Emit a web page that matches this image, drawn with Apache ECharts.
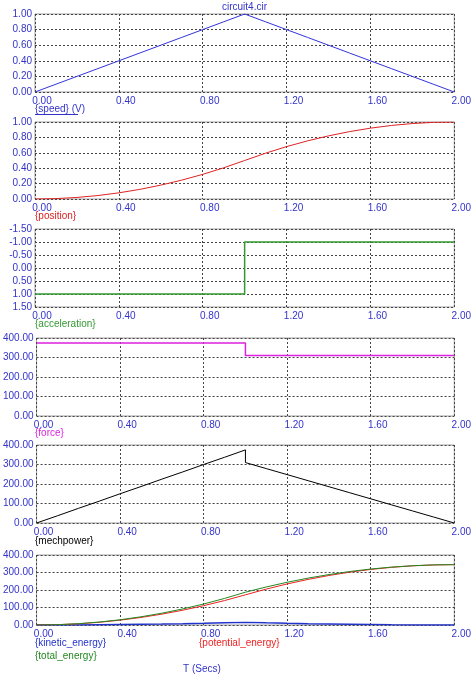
<!DOCTYPE html>
<html><head><meta charset="utf-8">
<script src="https://cdn.jsdelivr.net/npm/echarts@6/dist/echarts.min.js"></script>
<style>html,body{margin:0;padding:0;background:#fff}#c{width:474px;height:676px}</style>
</head><body><div id="c"></div>
<script>
const t = [0,0.1,0.2,0.3,0.4,0.5,0.6,0.7,0.8,0.9,1.0,1.1,1.2,1.3,1.4,1.5,1.6,1.7,1.8,1.9,2.0];
const speed = [0,0.1,0.2,0.3,0.4,0.5,0.6,0.7,0.8,0.9,1.0,0.9,0.8,0.7,0.6,0.5,0.4,0.3,0.2,0.1,0];
const position = [0,0.005,0.02,0.045,0.08,0.125,0.18,0.245,0.32,0.405,0.5,0.595,0.68,0.755,0.82,0.875,0.92,0.955,0.98,0.995,1.0];
const accelT = [0,1,1,2];
const accel = [1,1,-1,-1];
const forceT = [0,1,1,2];
const force = [375,375,310,310];
const powerT = [0,0.1,0.2,0.3,0.4,0.5,0.6,0.7,0.8,0.9,1.0,1.0,1.1,1.2,1.3,1.4,1.5,1.6,1.7,1.8,1.9,2.0];
const power = [0,37,75,112,150,187,225,262,300,337,375,310,279,248,217,186,155,124,93,62,31,0];
const kinetic = [0,0.15,0.6,1.35,2.4,3.75,5.4,7.35,9.6,12.15,15,12.15,9.6,7.35,5.4,3.75,2.4,1.35,0.6,0.15,0];
const potential = [0,1.7,6.9,15.5,27.6,43.1,62.1,84.5,110.4,139.7,172.5,205.3,234.6,260.5,282.9,301.9,317.4,329.5,338.1,343.3,345];
const total = [0,1.9,7.5,16.9,30,46.9,67.5,91.9,120,151.9,187.5,217.5,244.2,267.9,288.3,305.7,319.8,330.9,338.7,343.5,345];
const xTicks = ['0.00','0.40','0.80','1.20','1.60','2.00'];

const panels = [
  {top:14,h:78, min:0,max:1,iv:0.2,inv:false},
  {top:122,h:77,min:0,max:1,iv:0.2,inv:false},
  {top:229,h:78,min:-1.5,max:1.5,iv:0.5,inv:true},
  {top:338,h:78,min:0,max:400,iv:100,inv:false},
  {top:445,h:78,min:0,max:400,iv:100,inv:false},
  {top:555,h:70,min:0,max:400,iv:100,inv:false}
];
const font = 'Arial, Liberation Sans, sans-serif';
const grid=[],xAxis=[],yAxis=[];
panels.forEach((p,i)=>{
  grid.push({left:35,width:420,top:p.top,height:p.h,show:true,borderColor:'#a0a0a0',borderWidth:1,backgroundColor:'#fff'});
  xAxis.push({type:'value',gridIndex:i,min:0,max:2,interval:0.4,
    axisLine:{show:false},axisTick:{show:false},
    axisLabel:{color:'#3333cc',fontSize:10,fontFamily:font,margin:4,padding:[0,0,0,14],formatter:v=>xTicks[Math.round(v/0.4)]},
    splitLine:{show:true,lineStyle:{color:'#444',type:[2,2],width:1}}});
  yAxis.push({type:'value',gridIndex:i,min:p.min,max:p.max,interval:p.iv,inverse:p.inv,
    axisLine:{show:false},axisTick:{show:false},
    axisLabel:{color:'#3333cc',fontSize:10,fontFamily:font,margin:3,formatter:v=>v.toFixed(2)},
    splitLine:{show:true,lineStyle:{color:'#444',type:[2,2],width:1}}});
});
const zip=(a,b)=>a.map((v,i)=>[v,b[i]]);
const ln=(i,data,color,w)=>({type:'line',xAxisIndex:i,yAxisIndex:i,data,symbol:'none',lineStyle:{color,width:w||1},animation:false});
const series=[
  ln(0,zip(t,speed),'#3333dd'),
  ln(1,zip(t,position),'#dd2222',1),
  ln(2,zip(accelT,accel),'#339933',1.5),
  ln(3,zip(forceT,force),'#dd22dd',1.5),
  ln(4,zip(powerT,power),'#000',1),
  ln(5,zip(t,kinetic),'#2233cc',1.5),
  ln(5,zip(t,potential),'#ee2222',1),
  ln(5,zip(t,total),'#228822',1)
];
const txt=(x,y,s,c)=>({type:'text',left:x,top:y,style:{text:s,fill:c,font:'10px '+font}});
const graphic=[
  {type:'text',left:222,top:2,style:{text:'circuit4.cir',fill:'#3333cc',font:'10px '+font}},
  txt(35,104,'{speed} (V)','#3333cc'),
  {type:'line',shape:{x1:35,y1:114.5,x2:78,y2:114.5},style:{stroke:'#3333cc',lineWidth:1}},
  txt(35,211,'{position}','#dd2222'),
  txt(35,319,'{acceleration}','#339933'),
  txt(35,428,'{force}','#dd22dd'),
  txt(35,536,'{mechpower}','#000'),
  txt(35,638,'{kinetic_energy}','#2233cc'),
  txt(199,638,'{potential_energy}','#ee2222'),
  txt(35,651,'{total_energy}','#228822'),
  txt(183,664,'T (Secs)','#3333cc')
];
const chart=echarts.init(document.getElementById('c'));
chart.setOption({animation:false,grid,xAxis,yAxis,series,graphic});
</script></body></html>
